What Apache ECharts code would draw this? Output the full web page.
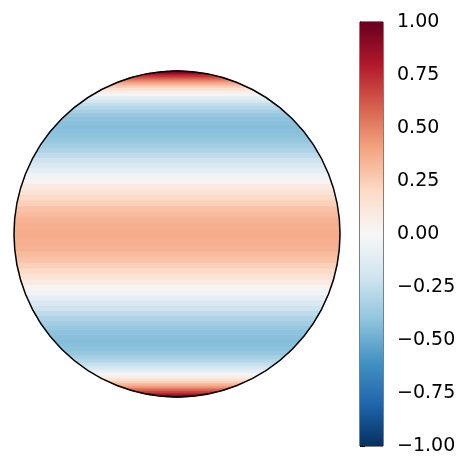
<!DOCTYPE html>
<html>
<head>
<meta charset="utf-8">
<script src="https://cdn.jsdelivr.net/npm/echarts@6/dist/echarts.min.js"></script>
<style>html,body{margin:0;padding:0;background:#fff;}#c{width:474px;height:474px;}</style>
</head>
<body>
<div id="c"></div>
<script>
// Latitude band centres (degrees), south to north
const bandLat = [-89,-87,-85,-83,-81,-79,-77,-75,-73,-71,-69,-67,-65,-63,-61,-59,-57,-55,-53,-51,-49,-47,-45,-43,-41,-39,-37,-35,-33,-31,-29,-27,-25,-23,-21,-19,-17,-15,-13,-11,-9,-7,-5,-3,-1,
1,3,5,7,9,11,13,15,17,19,21,23,25,27,29,31,33,35,37,39,41,43,45,47,49,51,53,55,57,59,61,63,65,67,69,71,73,75,77,79,81,83,85,87,89];
// Band values
const bandValue = [1.00,0.99,0.96,0.93,0.88,0.82,0.76,0.68,0.60,0.52,0.43,0.34,0.25,0.16,0.07,-0.02,-0.10,-0.17,-0.24,-0.29,-0.34,-0.38,-0.41,-0.42,-0.43,-0.42,-0.41,-0.39,-0.35,-0.31,-0.26,-0.21,-0.16,-0.10,-0.03,0.03,0.09,0.14,0.20,0.24,0.29,0.32,0.35,0.36,0.37,
0.37,0.36,0.35,0.32,0.29,0.24,0.20,0.14,0.09,0.03,-0.03,-0.10,-0.16,-0.21,-0.26,-0.31,-0.35,-0.39,-0.41,-0.42,-0.43,-0.42,-0.41,-0.38,-0.34,-0.29,-0.24,-0.17,-0.10,-0.02,0.07,0.16,0.25,0.34,0.43,0.52,0.60,0.68,0.76,0.82,0.88,0.93,0.96,0.99,1.00];
const cbarRange = [-1, 1];
const cbarTicks = [-1,-0.75,-0.5,-0.25,0,0.25,0.5,0.75,1];
const cmapColors = ['#053061','#2166ac','#4393c3','#92c5de','#d1e5f0','#f7f7f7','#fddbc7','#f4a582','#d6604d','#b2182b','#67001f'];

const chart = echarts.init(document.getElementById('c'), null, {renderer:'canvas'});
const font = 'DejaVu Sans';
const option = {
  animation:false,
  backgroundColor:'#fff',
  grid:[
    {left:14, top:71, width:326, height:326},
    {left:360, top:22, width:23, height:424, show:true, borderColor:'#000', borderWidth:1, backgroundColor:'transparent'}
  ],
  xAxis:[
    {gridIndex:0, type:'value', min:-1, max:1, show:false},
    {gridIndex:1, type:'value', min:0, max:1, show:false}
  ],
  yAxis:[
    {gridIndex:0, type:'value', min:-1, max:1, show:false},
    {gridIndex:1, type:'value', min:cbarRange[0], max:cbarRange[1], interval:0.25, position:'right',
     axisLine:{show:true, lineStyle:{color:'#000', width:1}},
     axisTick:{show:true, inside:false, length:5, lineStyle:{color:'#000', width:1}},
     splitLine:{show:false},
     axisLabel:{margin:14, color:'#000', fontFamily:font, fontSize:19,
       formatter:function(v){ const s=Math.abs(v).toFixed(2); return (v<0?'\u2212':'')+s; }}
    }
  ],
  visualMap:{show:false, type:'continuous', min:-1, max:1, dimension:1, seriesIndex:0, inRange:{color:cmapColors}},
  series:[
    {
      type:'custom', xAxisIndex:0, yAxisIndex:0,
      data: bandLat.map((c,i)=>[c, bandValue[i]]),
      renderItem:function(params, api){
        const c = api.value(0);
        const lo = (c-1)*Math.PI/180, hi=(c+1)*Math.PI/180;
        const pts=[];
        const n=8;
        for(let k=0;k<=n;k++){const t=lo+(hi-lo)*k/n; pts.push(api.coord([Math.cos(t), Math.sin(t)]));}
        for(let k=n;k>=0;k--){const t=lo+(hi-lo)*k/n; pts.push(api.coord([-Math.cos(t), Math.sin(t)]));}
        const col = api.visual('color');
        return {type:'polygon', shape:{points:pts}, style:{fill:col, stroke:col, lineWidth:0.8}};
      }
    },
    {
      type:'custom', xAxisIndex:0, yAxisIndex:0, z:5,
      data:[[0,0]],
      renderItem:function(params, api){
        const c = api.coord([0,0]);
        const e = api.coord([1,0]);
        return {type:'circle', shape:{cx:c[0], cy:c[1], r:e[0]-c[0]}, style:{fill:'none', stroke:'#000', lineWidth:1.5}};
      }
    },
    {
      type:'custom', xAxisIndex:1, yAxisIndex:1,
      data:[[0, cbarRange[0], cbarRange[1]]],
      renderItem:function(params, api){
        const p0 = api.coord([0, api.value(1)]);
        const p1 = api.coord([1, api.value(2)]);
        const stops = cmapColors.map((col,i)=>({offset:i/(cmapColors.length-1), color:col}));
        return {type:'rect', shape:{x:p0[0], y:p1[1], width:p1[0]-p0[0], height:p0[1]-p1[1]},
          style:{fill:new echarts.graphic.LinearGradient(0,1,0,0,stops)}};
      }
    }
  ]
};
chart.setOption(option);
</script>
</body>
</html>
